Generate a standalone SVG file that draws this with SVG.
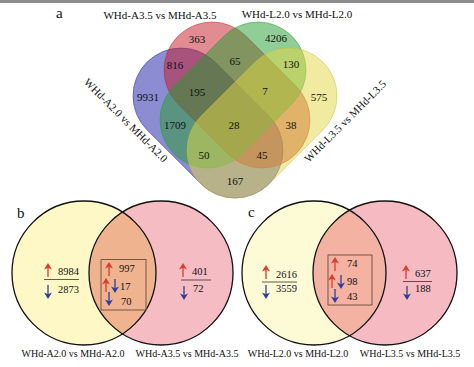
<svg xmlns="http://www.w3.org/2000/svg" xmlns:xlink="http://www.w3.org/1999/xlink" width="474" height="367" viewBox="0 0 474 367">
<style>
.t{font-family:"Liberation Serif","Times New Roman",serif;fill:#111}
.lab{font-size:11px}
.n{font-size:11px;text-anchor:middle}
.s{font-size:10.5px}
.bl{font-size:10px}
.pl{font-size:15px}
.cap{stroke-width:0.8;stroke-opacity:0.55;fill-opacity:0.5}
.ring{fill:none;stroke:#111;stroke-width:1.3}
.box{fill:none;stroke:#7a5545;stroke-width:1}
.rule{stroke:#333;stroke-width:0.8}
</style>
<defs>
<g id="up"><path d="M0,0 L4,6.5 L0,4.8 L-4,6.5 Z" fill="#e0392b"/><line x1="0" y1="4" x2="0" y2="14" stroke="#e0392b" stroke-width="1.3"/></g>
<g id="dn"><line x1="0" y1="0" x2="0" y2="10" stroke="#2d3f9c" stroke-width="1.3"/><path d="M0,14 L4,7.5 L0,9.2 L-4,7.5 Z" fill="#2d3f9c"/></g>
</defs>
<rect x="0" y="0" width="474" height="367" fill="#fff"/>
<rect x="0" y="0" width="474" height="3" fill="#8c8c8c"/>

<!-- panel a -->
<g id="venn4">
<g id="setA20"><rect class="cap" x="-86.2" y="-48" width="172.4" height="96" rx="48" transform="translate(208,123) rotate(45)" fill="rgb(25,25,165)" stroke="rgb(25,25,165)"/></g>
<g id="setA35"><rect class="cap" x="-83.35" y="-48" width="166.7" height="96" rx="48" transform="translate(237,95) rotate(45)" fill="rgb(195,25,35)" stroke="rgb(195,25,35)"/></g>
<g id="setL20"><rect class="cap" x="-83.35" y="-48" width="166.7" height="96" rx="48" transform="translate(233,95) rotate(-45)" fill="rgb(35,155,45)" stroke="rgb(35,155,45)"/></g>
<g id="setL35"><rect class="cap" x="-86.2" y="-48" width="172.4" height="96" rx="48" transform="translate(262,123) rotate(-45)" fill="rgb(225,215,65)" stroke="rgb(200,190,50)"/></g>
</g>
<g id="venn4-labels">
<text class="t pl" x="56" y="18">a</text>
<text class="t lab" x="160" y="19" text-anchor="middle">WHd-A3.5 vs MHd-A3.5</text>
<text class="t lab" x="297" y="18" text-anchor="middle">WHd-L2.0 vs MHd-L2.0</text>
<text class="t lab" text-anchor="middle" transform="translate(126,120) rotate(45)" y="4">WHd-A2.0 vs MHd-A2.0</text>
<text class="t lab" text-anchor="middle" transform="translate(345,121) rotate(-45)" y="4">WHd-L3.5 vs MHd-L3.5</text>
</g>
<g id="venn4-counts">
<text class="t n" x="197" y="43">363</text>
<text class="t n" x="175" y="69">816</text>
<text class="t n" x="148" y="101">9931</text>
<text class="t n" x="197" y="96">195</text>
<text class="t n" x="175" y="129">1709</text>
<text class="t n" x="204" y="159">50</text>
<text class="t n" x="235" y="65">65</text>
<text class="t n" x="276" y="42">4206</text>
<text class="t n" x="291" y="68">130</text>
<text class="t n" x="265" y="95">7</text>
<text class="t n" x="319" y="101">575</text>
<text class="t n" x="291" y="129">38</text>
<text class="t n" x="234" y="129">28</text>
<text class="t n" x="262" y="159">45</text>
<text class="t n" x="235" y="185">167</text>
</g>

<!-- panel b -->
<g id="vennB">
<g id="b-left"><circle cx="84" cy="273" r="72" fill="#fdf8c6"/></g>
<g id="b-right"><circle cx="161" cy="273" r="72" fill="#f6bcc3"/></g>
<path d="M122.5,212.16 A72,72 0 0,1 122.5,333.84 A72,72 0 0,1 122.5,212.16 Z" fill="#f0b390"/>
<circle class="ring" cx="84" cy="273" r="72"/>
<circle class="ring" cx="161" cy="273" r="72"/>
<text class="t pl" x="17" y="218">b</text>
<g id="b-left-counts">
<use xlink:href="#up" x="48" y="263"/>
<text class="t s" x="58" y="275">8984</text>
<line class="rule" x1="44" y1="279.5" x2="79" y2="279.5"/>
<text class="t s" x="58" y="292.5">2873</text>
<use xlink:href="#dn" x="48" y="285"/>
</g>
<g id="b-shared">
<rect class="box" x="101" y="259.5" width="45" height="50.5"/>
<use xlink:href="#up" x="109" y="262"/>
<text class="t s" x="119" y="272">997</text>
<use xlink:href="#up" x="106" y="278"/>
<use xlink:href="#dn" x="115" y="279"/>
<text class="t s" x="120" y="290">17</text>
<use xlink:href="#dn" x="109" y="292"/>
<text class="t s" x="121" y="305">70</text>
</g>
<g id="b-right-counts">
<use xlink:href="#up" x="183" y="263"/>
<text class="t s" x="192" y="274.5">401</text>
<line class="rule" x1="181" y1="280" x2="211" y2="280"/>
<text class="t s" x="193" y="292">72</text>
<use xlink:href="#dn" x="184" y="286"/>
</g>
</g>

<!-- panel c -->
<g id="vennC">
<g id="c-left"><circle cx="314" cy="273" r="72" fill="#fdfad6"/></g>
<g id="c-right"><circle cx="385" cy="273" r="72" fill="#f6bac2"/></g>
<path d="M349.5,210.36 A72,72 0 0,1 349.5,335.64 A72,72 0 0,1 349.5,210.36 Z" fill="#f3b2a2"/>
<circle class="ring" cx="314" cy="273" r="72"/>
<circle class="ring" cx="385" cy="273" r="72"/>
<text class="t pl" x="248" y="217">c</text>
<g id="c-left-counts">
<use xlink:href="#up" x="266" y="265"/>
<text class="t s" x="276" y="278">2616</text>
<line class="rule" x1="262" y1="282" x2="297" y2="282"/>
<text class="t s" x="276" y="292">3559</text>
<use xlink:href="#dn" x="266" y="285"/>
</g>
<g id="c-shared">
<rect class="box" x="328" y="255" width="44" height="50"/>
<use xlink:href="#up" x="335" y="257"/>
<text class="t s" x="347" y="267">74</text>
<use xlink:href="#up" x="332" y="274"/>
<use xlink:href="#dn" x="341" y="275"/>
<text class="t s" x="347" y="284.5">98</text>
<use xlink:href="#dn" x="335" y="289"/>
<text class="t s" x="347" y="300">43</text>
</g>
<g id="c-right-counts">
<use xlink:href="#up" x="406" y="265"/>
<text class="t s" x="415" y="277">637</text>
<line class="rule" x1="403" y1="281.5" x2="432" y2="281.5"/>
<text class="t s" x="415" y="292">188</text>
<use xlink:href="#dn" x="407" y="286"/>
</g>
</g>

<g id="bottom-labels">
<text class="t bl" x="73" y="357" text-anchor="middle">WHd-A2.0 vs MHd-A2.0</text>
<text class="t bl" x="187" y="357" text-anchor="middle">WHd-A3.5 vs MHd-A3.5</text>
<text class="t bl" x="298" y="357" text-anchor="middle">WHd-L2.0 vs MHd-L2.0</text>
<text class="t bl" x="410" y="357" text-anchor="middle">WHd-L3.5 vs MHd-L3.5</text>
</g>
</svg>
